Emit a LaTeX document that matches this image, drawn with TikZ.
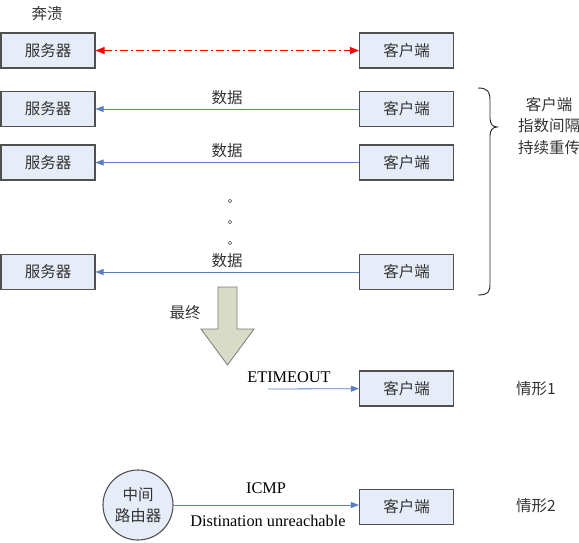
\documentclass[tikz,border=0pt]{standalone}
\usepackage{fontspec}
\setmainfont{Liberation Serif}
\newfontfamily\cjk{Noto Sans CJK SC}
\usetikzlibrary{arrows.meta}
\definecolor{boxfill}{HTML}{E7EDF8}
\definecolor{boxdraw}{HTML}{505050}
\definecolor{lineblue}{HTML}{5A7EC0}
\definecolor{arrowfill}{HTML}{D8DCC6}
\definecolor{arrowdraw}{HTML}{7A7A7A}
\begin{document}
\begin{tikzpicture}[x=1pt,y=-1pt,
  boxnode/.style={draw=boxdraw,fill=boxfill,line width=1.1pt,minimum width=94pt,minimum height=35pt,inner sep=0pt,font=\cjk\fontsize{15.5}{17}\selectfont,text=black!80},
  lbl/.style={inner sep=0pt,font=\cjk\fontsize{15.5}{17}\selectfont,text=black!80},
  latin/.style={inner sep=0pt,font=\fontsize{16.3}{18}\selectfont},
  dataline/.style={draw=lineblue,line width=0.8pt,-{Triangle[length=8pt,width=6pt]}},
  dotnode/.style={circle,draw=black!70,line width=0.6pt,inner sep=0pt,minimum size=3.5pt}
]
\useasboundingbox (0,0) rectangle (579,542);
% row 1
\node[lbl] (crash) at (47,14) {奔溃};
\node[boxnode] (s1) at (48,50.5) {服务器};
\node[boxnode] (c1) at (406.5,50.5) {客户端};
\draw[draw=red,line width=0.8pt,dash pattern=on 8pt off 3pt on 2pt off 3pt,{Triangle[length=9pt,width=7pt]}-{Triangle[length=9pt,width=7pt]}] (s1) -- (c1);
% row 2
\node[boxnode] (s2) at (48,109) {服务器};
\node[boxnode] (c2) at (406.5,109) {客户端};
\draw[dataline] (c2) -- (s2);
\node[lbl] (d2) at (227,98) {数据};
% row 3
\node[boxnode] (s3) at (48,162.5) {服务器};
\node[boxnode] (c3) at (406.5,162.5) {客户端};
\draw[dataline] (c3) -- (s3);
\node[lbl] (d3) at (227,151) {数据};
% dots
\node[dotnode] (p1) at (230,201) {};
\node[dotnode] (p2) at (230,222) {};
\node[dotnode] (p3) at (230,243) {};
% row 4
\node[boxnode] (s4) at (48,272) {服务器};
\node[boxnode] (c4) at (406.5,272) {客户端};
\draw[dataline] (c4) -- (s4);
\node[lbl] (d4) at (227,261) {数据};
% brace
\draw[line width=0.9pt,black!85] (478,88) .. controls (488,88) and (490,92) .. (490,100) -- (490,118) .. controls (490,124) and (493,127) .. (497,127) .. controls (493,127) and (490,130) .. (490,136) -- (490,284) .. controls (490,292) and (488,295) .. (478,295);
\node[lbl,align=center,font=\cjk\fontsize{15.5}{21.5}\selectfont] (bracetext) at (549,126) {客户端\\指数间隔\\持续重传};
% big arrow
\draw[draw=arrowdraw,fill=arrowfill,line width=0.8pt] (218,287) -- (237,287) -- (237,329) -- (254,329) -- (227.5,365) -- (201,329) -- (218,329) -- cycle;
\node[lbl] (final) at (185,313) {最终};
% case 1
\node[boxnode] (c5) at (406.5,388.5) {客户端};
\coordinate (e1) at (268,389);
\draw[dataline] (e1) -- (c5);
\node[latin] (etime) at (289,377) {ETIMEOUT};
\node[lbl] (case1) at (536,389) {情形1};
% case 2
\node[circle,draw=boxdraw,fill=boxfill,line width=1.1pt,minimum size=70pt,inner sep=0pt,align=center,font=\cjk\fontsize{15.5}{21}\selectfont,text=black!80] (router) at (138,505) {中间\\路由器};
\node[boxnode] (c6) at (406.5,507) {客户端};
\draw[dataline] (router.east) -- (router.east -| c6.west);
\node[latin] (icmp) at (266,488) {ICMP};
\node[latin] (dest) at (268,521) {Distination unreachable};
\node[lbl] (case2) at (536,506) {情形2};
\end{tikzpicture}
\end{document}
